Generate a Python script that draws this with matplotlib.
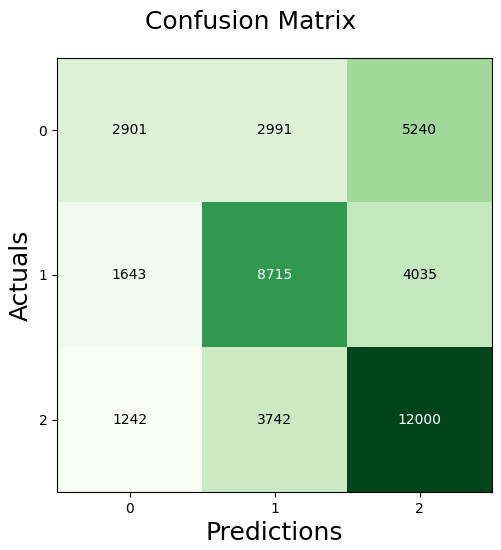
import matplotlib
matplotlib.use("Agg")
import matplotlib.pyplot as plt
import numpy as np

# confusion matrix values (rows = actuals, cols = predictions)
labels = ["0", "1", "2"]
row0 = [2901, 2991, 5240]
row1 = [1643, 8715, 4035]
row2 = [1242, 3742, 12000]

conf = np.array([row0, row1, row2])

fig = plt.figure(figsize=(5.02, 5.5), dpi=100)
ax = fig.add_axes([0.1135, 0.1055, 0.867, 0.789])
ax.imshow(conf, cmap="Greens", aspect="auto")

thresh = conf.max() / 2
for i in range(conf.shape[0]):
    for j in range(conf.shape[1]):
        ax.text(j, i, str(conf[i, j]), ha="center", va="center", fontsize=10,
                color="white" if conf[i, j] > thresh else "black")

ax.set_xticks(range(len(labels)))
ax.set_xticklabels(labels)
ax.set_yticks(range(len(labels)))
ax.set_yticklabels(labels)
ax.tick_params(labelsize=10)
ax.set_xlabel("Predictions", fontsize=18)
ax.set_ylabel("Actuals", fontsize=18)
fig.text(0.5, 0.96, "Confusion Matrix", ha="center", va="center", fontsize=18)

fig.savefig("out.png", dpi=100)
